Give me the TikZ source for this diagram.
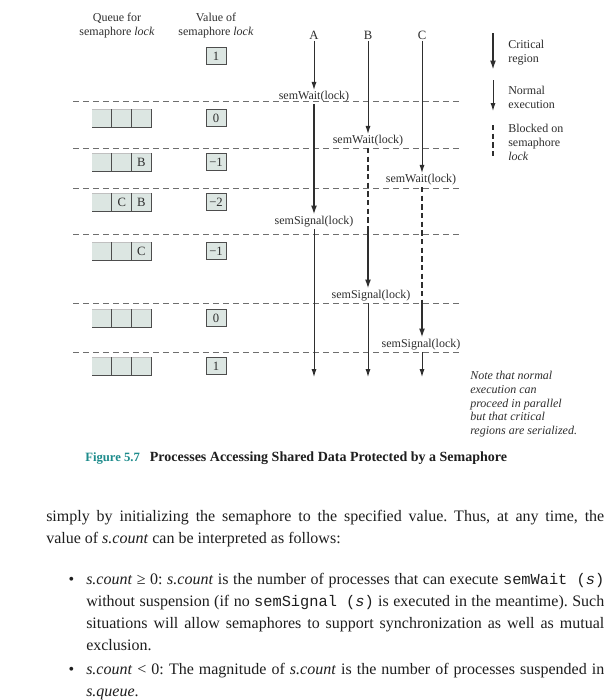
\documentclass[tikz,border=0pt]{standalone}
\usepackage{fontspec}
\setmainfont{Liberation Serif}
\setmonofont{Liberation Mono}
\usetikzlibrary{arrows.meta,positioning}
\definecolor{SEMInk}{HTML}{2E2E2E}
\definecolor{SEMGrid}{HTML}{6E6E6E}
\definecolor{SEMCell}{HTML}{DCE6E2}
\definecolor{SEMTeal}{HTML}{1E8C8C}
\definecolor{SEMText}{HTML}{1E1E1E}
\tikzset{
  semhead/.style={
    align=center,
    text=SEMInk,
    inner sep=0pt,
    font=\fontsize{9}{10.5}\selectfont
  },
  semval/.style={
    draw=SEMInk!85,
    fill=SEMCell,
    line width=0.6pt,
    minimum width=15pt,
    minimum height=12.75pt,
    inner sep=0pt,
    text=SEMInk,
    font=\fontsize{9.5}{10}\selectfont
  },
  semcell/.style={
    fill=SEMCell,
    minimum width=14.8pt,
    minimum height=13.5pt,
    inner sep=0pt,
    outer sep=0pt,
    text=SEMInk,
    font=\fontsize{9.5}{10}\selectfont
  },
  semqline/.style={draw=SEMInk!85,line width=0.6pt},
  semqtop/.style={draw=SEMInk!30,line width=0.5pt},
  semlabel/.style={text=SEMInk,inner sep=1pt,font=\fontsize{9}{10}\selectfont},
  semkey/.style={text=SEMInk,inner sep=0pt,align=left,anchor=west,font=\fontsize{9}{10.5}\selectfont},
  semnormal/.style={-{Latex[length=6pt,width=3.8pt]},draw=SEMInk,line width=0.75pt},
  semcritical/.style={-{Latex[length=7pt,width=4.4pt]},draw=SEMInk,line width=1.6pt},
  semblocked/.style={draw=SEMInk,line width=1.4pt,dash pattern=on 4pt off 2.5pt},
  semrule/.style={draw=SEMGrid,line width=0.6pt,dash pattern=on 4.5pt off 3pt}
}

\begin{document}
\begin{tikzpicture}[x=0.75pt,y=-0.75pt]
  \fill[white] (0,0) rectangle (606,700);
  \useasboundingbox (0,0) rectangle (606,700);

  % column heads
  \node[semhead] (qhead) at (117,26) {Queue for\\semaphore \textit{lock}};
  \node[semhead] (vhead) at (216,26) {Value of\\semaphore \textit{lock}};

  % time slices
  \foreach \y in {101,148,188,234,303,352}
    \draw[semrule] (73,\y) -- (460,\y);

  % semaphore values
  \node[semval] (val0) at (216,56) {1};
  \node[semval] (val1) at (216,118) {0};
  \node[semval] (val2) at (216,162) {−1};
  \node[semval] (val3) at (216,202) {−2};
  \node[semval] (val4) at (216,251) {−1};
  \node[semval] (val5) at (216,318) {0};
  \node[semval] (val6) at (216,366) {1};

  % queues
  \foreach \r/\y/\qmid/\qlast in {1/118/{}/{},2/162/{}/B,3/202/C/B,4/251/{}/C,5/318/{}/{},6/366/{}/{}} {
    \node[semcell] (q\r a) at (102,\y) {};
    \node[semcell,right=0pt of q\r a] (q\r b) {\qmid};
    \node[semcell,right=0pt of q\r b] (q\r c) {\qlast};
    \draw[semqtop] (q\r a.north west) -- (q\r c.north east);
    \draw[semqline] (q\r a.south west) -- (q\r c.south east) -- (q\r c.north east);
    \draw[semqline] (q\r a.north east) -- (q\r a.south east);
    \draw[semqline] (q\r b.north east) -- (q\r b.south east);
  }

  % processes
  \node[semlabel,font=\fontsize{9.5}{10}\selectfont] (procA) at (314,35) {A};
  \node[semlabel,font=\fontsize{9.5}{10}\selectfont] (procB) at (368,35) {B};
  \node[semlabel,font=\fontsize{9.5}{10}\selectfont] (procC) at (422,35) {C};

  \node[semlabel] (waitA) at (314,97) {semWait(lock)};
  \node[semlabel] (sigA) at (314,222) {semSignal(lock)};
  \coordinate (endA) at (314,377);
  \draw[semnormal] (procA) -- (waitA);
  \draw[semcritical] (waitA) -- (sigA);
  \draw[semnormal] (sigA) -- (endA);

  \node[semlabel] (waitB) at (368,141) {semWait(lock)};
  \coordinate (getB) at (368,231);
  \node[semlabel] (sigB) at (371,296) {semSignal(lock)};
  \coordinate (endB) at (368,377);
  \draw[semnormal] (procB) -- (waitB);
  \draw[semblocked] (waitB) -- (getB);
  \draw[semcritical] (getB) -- (getB |- sigB.north);
  \draw[semnormal] (endB |- sigB.south) -- (endB);

  \node[semlabel] (waitC) at (421,180) {semWait(lock)};
  \coordinate (getC) at (422,303);
  \node[semlabel] (sigC) at (421,345) {semSignal(lock)};
  \coordinate (endC) at (422,377);
  \draw[semnormal] (procC) -- (procC |- waitC.north);
  \draw[semblocked] (getC |- waitC.south) -- (getC);
  \draw[semcritical] (getC) -- (getC |- sigC.north);
  \draw[semnormal] (endC |- sigC.south) -- (endC);

  % key
  \coordinate (keyA) at (493,33);
  \coordinate (keyB) at (493,70);
  \coordinate (keyC) at (493,80);
  \coordinate (keyD) at (493,111);
  \coordinate (keyE) at (493,125);
  \coordinate (keyF) at (493,157);
  \draw[semcritical] (keyA) -- (keyB);
  \draw[semnormal] (keyC) -- (keyD);
  \draw[semblocked] (keyE) -- (keyF);
  \node[semkey] (keycrit) at (508,53) {Critical\\region};
  \node[semkey] (keynorm) at (508,97) {Normal\\execution};
  \node[semkey] (keyblock) at (508,142) {Blocked on\\semaphore\\\textit{lock}};

  \node[semkey,anchor=north west,font=\fontsize{9}{10.3}\selectfont\itshape] (note)
    at (470,371) {Note that normal\\execution can\\proceed in parallel\\but that critical\\regions are serialized.};

  % caption
  \node[anchor=west,inner sep=0pt,text=SEMText,font=\fontsize{10.5}{12}\selectfont\bfseries] (caption)
    at (85,458) {\textcolor{SEMTeal}{\fontsize{9.5}{12}\selectfont Figure 5.7}\hspace{7.5pt}Processes Accessing Shared Data Protected by a Semaphore};

  % running text
  \node[anchor=north west,inner sep=0pt,text width=418.5pt,align=justify,text=SEMText,
        font=\fontsize{12}{16.5}\selectfont\frenchspacing] (body) at (46,510) {%
    simply by initializing the semaphore to the specified value. Thus, at any time, the\linebreak
    value of \textit{s.count} can be interpreted as follows:\par
    \vspace{14.5pt}
    {\hangindent=30pt\hangafter=0\noindent\llap{•\hspace{9pt}}%
    \textit{s.count} ≥ 0: \textit{s.count} is the number of processes that can execute {\fontsize{11.5}{16.5}\selectfont\texttt{semWait (\textit{s})}}\linebreak
    without suspension (if no {\fontsize{11.5}{16.5}\selectfont\texttt{semSignal (\textit{s})}} is executed in the meantime). Such\linebreak
    situations will allow semaphores to support synchronization as well as mutual\linebreak
    exclusion.\par}
    \vspace{1pt}
    {\hangindent=30pt\hangafter=0\noindent\llap{•\hspace{9pt}}%
    \textit{s.count} < 0: The magnitude of \textit{s.count} is the number of processes suspended in\linebreak
    \textit{s.queue}.\par}};
\end{tikzpicture}
\end{document}
